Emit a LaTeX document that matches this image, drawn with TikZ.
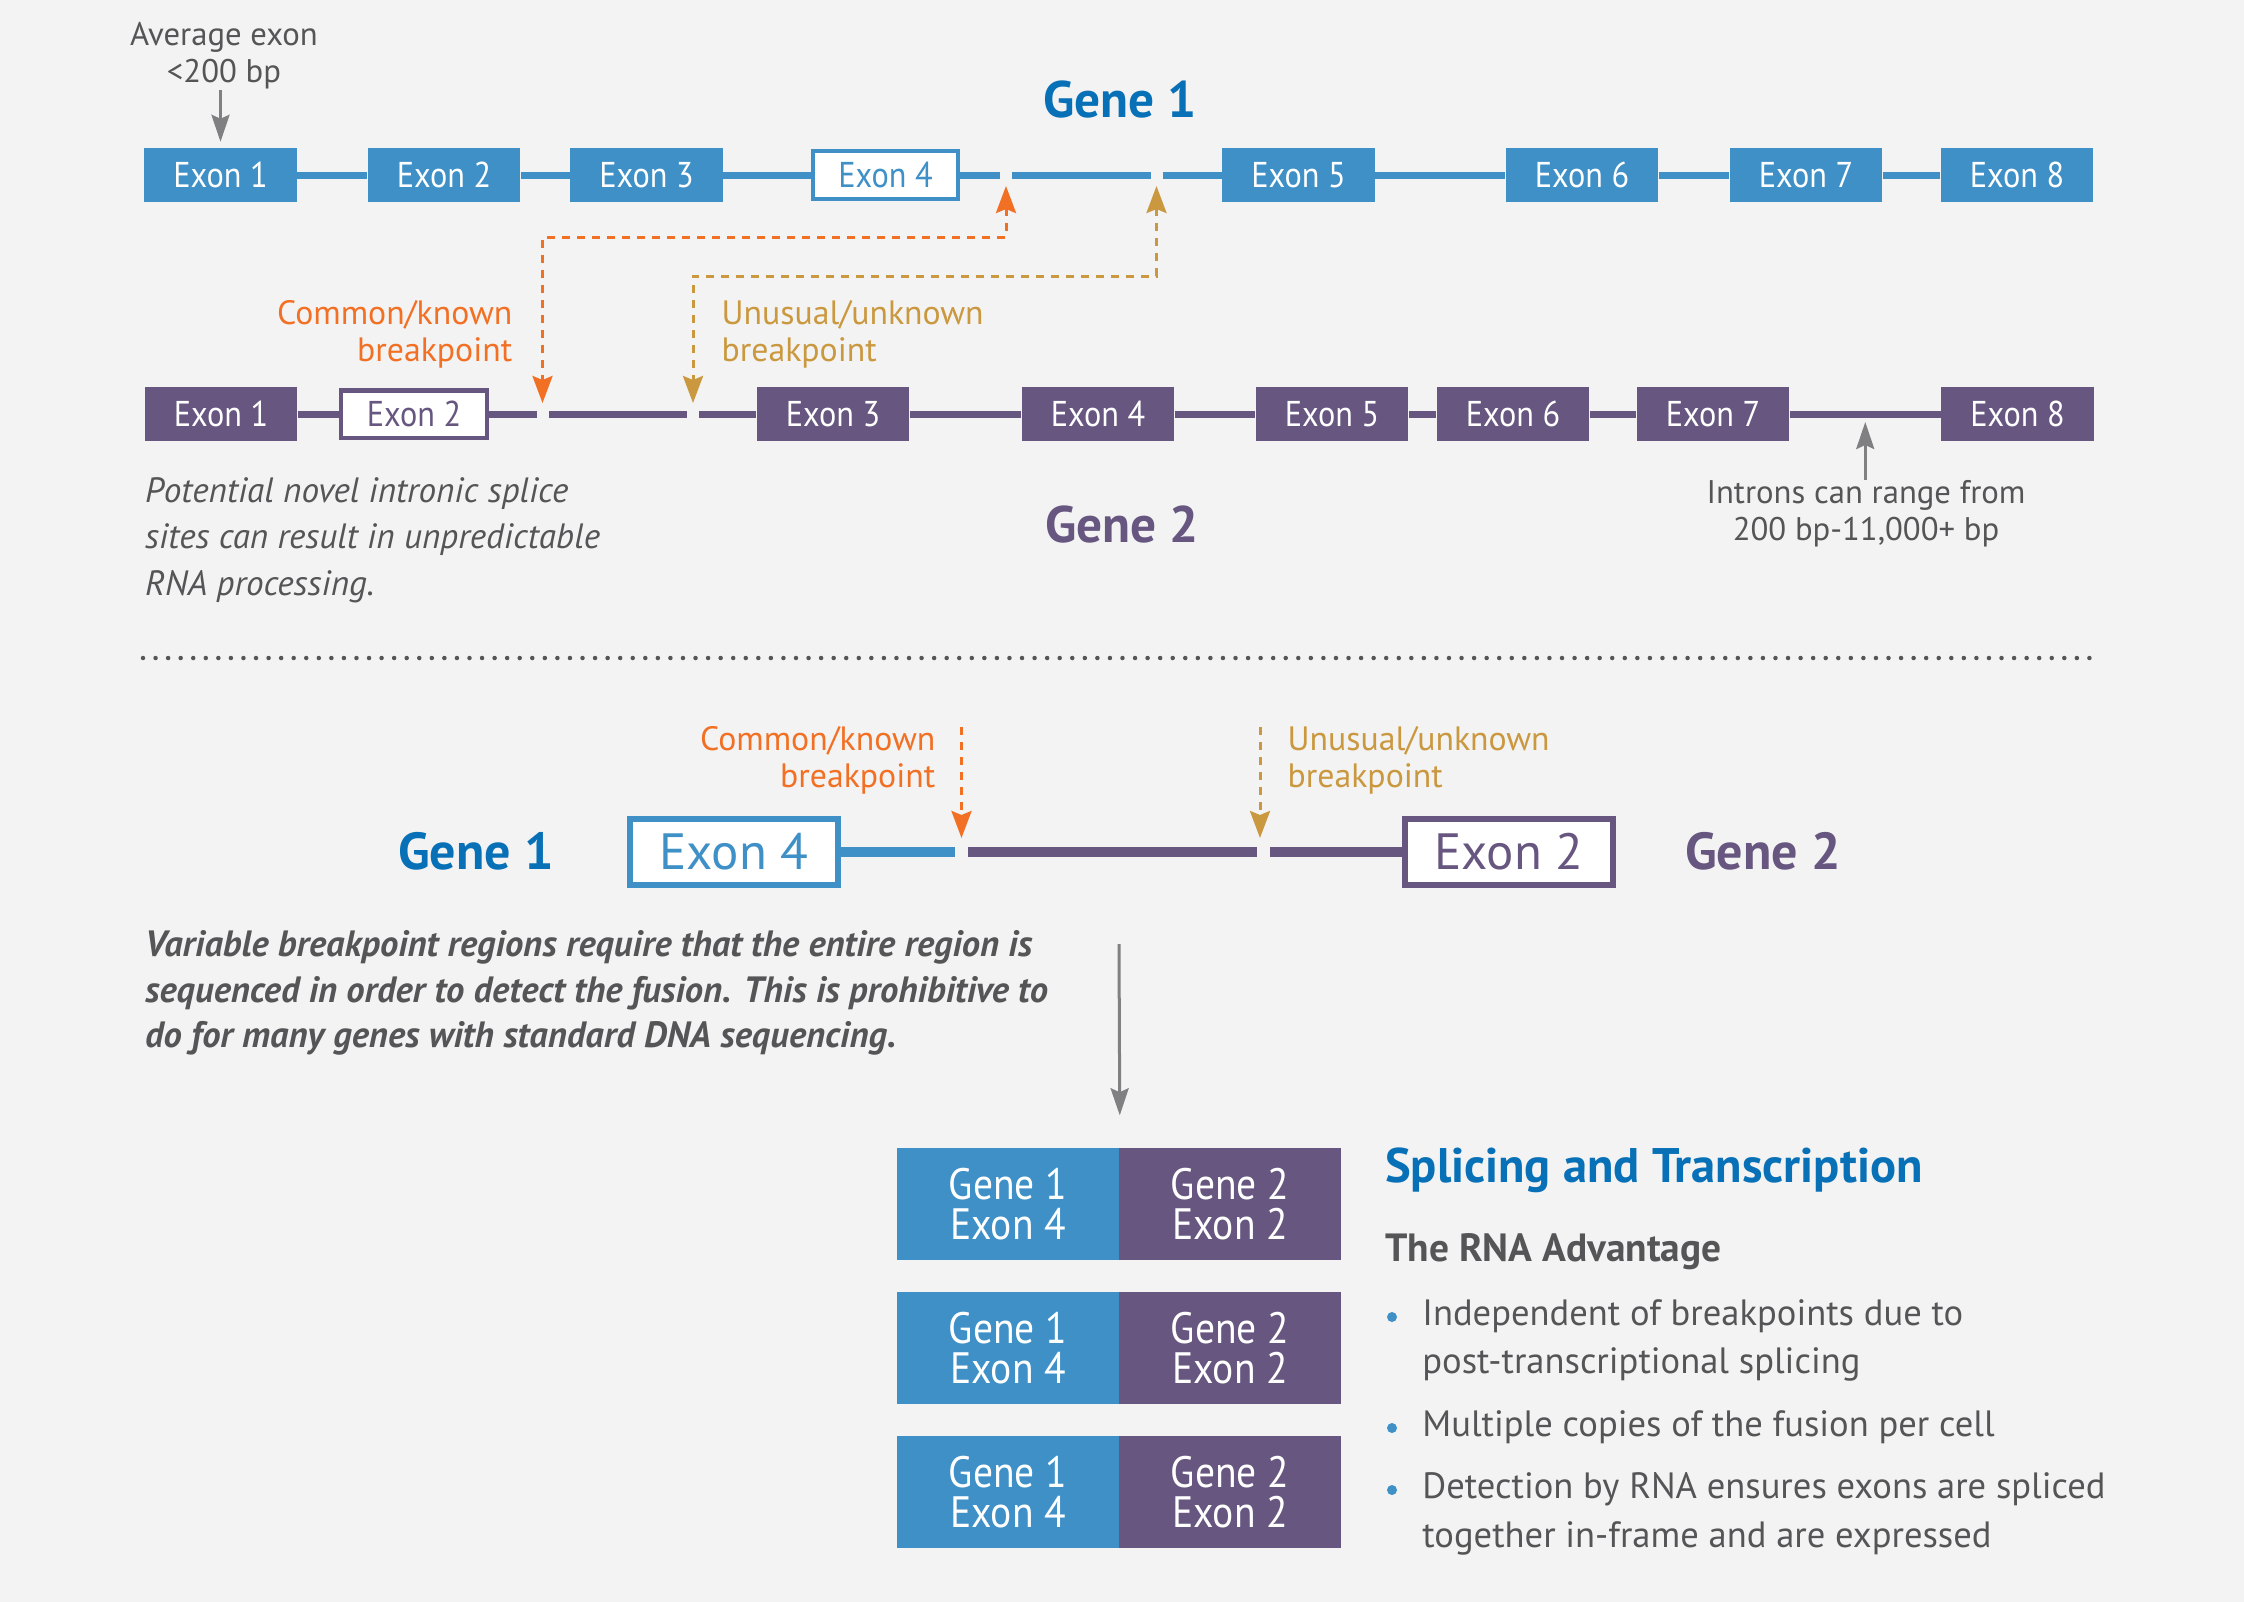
\documentclass[tikz,border=0pt]{standalone}
\usepackage{fontspec}
\setmainfont{PT Sans}[FakeStretch=0.9]
\newfontfamily\notefont{PT Sans}
\usetikzlibrary{calc,arrows.meta}

\definecolor{exonblue}{RGB}{62,144,199}
\definecolor{titleblue}{RGB}{8,112,182}
\definecolor{genepurple}{RGB}{102,86,128}
\definecolor{knownorange}{RGB}{242,112,36}
\definecolor{unknowngold}{RGB}{202,152,62}
\definecolor{textgray}{RGB}{85,85,87}
\definecolor{arrowgray}{RGB}{128,128,131}
\definecolor{bg}{RGB}{243,243,243}

\begin{document}
\begin{tikzpicture}[x=0.01cm,y=-0.01cm,
    exon/.style={rectangle, fill=#1, text=white, inner sep=0pt,
      minimum width=1.52cm, minimum height=0.53cm, font=\fontsize{10.2}{12}\selectfont},
    keyexon/.style={rectangle, draw=#1, fill=white, text=#1, inner sep=0pt, line width=0.04cm,
      minimum width=1.45cm, minimum height=0.47cm, font=\fontsize{10.2}{12}\selectfont},
    fusexon/.style={rectangle, draw=#1, fill=white, text=#1, inner sep=0pt, line width=0.06cm,
      minimum width=2.08cm, minimum height=0.65cm, font=\notefont\fontsize{14.5}{18}\selectfont},
    rnabox/.style={rectangle, fill=#1, text=white, inner sep=0pt, align=center,
      minimum width=2.22cm, minimum height=1.12cm, font=\fontsize{12.5}{11.4}\selectfont},
    intron/.style={draw=#1, line width=0.07cm},
    fusline/.style={draw=#1, line width=0.1cm},
    gap/.style={fill=bg},
    note/.style={inner sep=0pt, font=\notefont\fontsize{9.3}{10.5}\selectfont},
    bknote/.style={inner sep=0pt, font=\notefont\fontsize{9.6}{10.5}\selectfont},
    genetitle/.style={inner sep=0pt, text=#1, font=\notefont\bfseries\fontsize{14.6}{16}\selectfont},
    bigtitle/.style={inner sep=0pt, text=#1, font=\notefont\bfseries\fontsize{14.8}{18}\selectfont},
    >={Stealth[length=0.27cm,width=0.2cm,inset=0.04cm]},
    bkarrow/.style={draw=#1, line width=0.03cm, dash pattern=on 0.08cm off 0.07cm},
    grayarrow/.style={draw=arrowgray, line width=0.03cm, ->, >={Stealth[length=0.27cm,width=0.18cm,inset=0.04cm]}},
    sepline/.style={draw=textgray, line width=0.045cm, line cap=round, dash pattern=on 0pt off 0.1255cm}]

    % page
    \fill[bg] (0,0) rectangle (2244,1602);
    \useasboundingbox (0,0) rectangle (2244,1602);

    % gene 1
    \foreach \n/\x in {1/220.5,2/444,3/646.5,5/1298.5,6/1582,7/1806,8/2017}
        \node[exon=exonblue] (a\n) at (\x,175) {Exon \n};
    \node[keyexon=exonblue] (a4) at (885.5,175) {Exon 4};
    \foreach \i [evaluate=\i as \j using int(\i+1)] in {1,...,7}
        \draw[intron=exonblue] (a\i) -- (a\j);
    \node[genetitle=titleblue] (g1) at (1120,100) {Gene 1};

    % gene 2
    \foreach \n/\x in {1/221,3/833,4/1098,5/1332,6/1513,7/1713,8/2017.5}
        \node[exon=genepurple] (b\n) at (\x,414) {Exon \n};
    \node[keyexon=genepurple] (b2) at (414,414) {Exon 2};
    \foreach \i [evaluate=\i as \j using int(\i+1)] in {1,...,7}
        \draw[intron=genepurple] (b\i) -- (b\j);
    \node[genetitle=genepurple] (g2) at (1122,525) {Gene 2};

    % breakpoints
    \coordinate (k1) at (1006,175);
    \coordinate (u1) at (1156.5,175);
    \coordinate (k2) at (542.5,414);
    \coordinate (u2) at (693,414);
    \foreach \c in {k1,u1,k2,u2}
        \fill[gap] ($(\c)+(-6,-6)$) rectangle ($(\c)+(6,6)$);
    \draw[bkarrow=knownorange, <->] ($(k1)+(0,11)$) -- ++(0,51) -| ($(k2)+(0,-11)$);
    \draw[bkarrow=unknowngold, <->] ($(u1)+(0,11)$) -- ++(0,90) -| ($(u2)+(0,-11)$);
    \node[bknote, text=knownorange, align=right, anchor=east] (kn) at (513,334) {Common/known\\breakpoint};
    \node[bknote, text=unknowngold, align=left, anchor=west] (un) at (721,334) {Unusual/unknown\\breakpoint};

    % notes
    \node[note, text=textgray, align=center] (avg) at (224,56) {Average exon\\<200 bp};
    \draw[grayarrow] (a1.north |- avg.south) -- ([yshift=0.06cm]a1.north);
    \coordinate (i78) at ($(b7.east)!0.5!(b8.west)$);
    \node[note, text=textgray, align=center] (intr) at (1866,514) {Introns can range from\\200 bp-11,000+ bp};
    \draw[grayarrow] (intr.north -| i78) -- ([yshift=-0.08cm]i78);
    \node[inner sep=0pt, text=textgray, align=left, anchor=west, font=\notefont\itshape\fontsize{10}{13.2}\selectfont]
        (pot) at (144.5,540) {Potential novel intronic splice\\sites can result in unpredictable\\RNA processing.};

    \draw[sepline] (143,658) -- (2096,658);

    % fusion
    \node[bigtitle=titleblue] (fg1) at (476,851) {Gene 1};
    \node[fusexon=exonblue] (fx4) at (734,852) {Exon 4};
    \node[fusexon=genepurple] (fx2) at (1509,852) {Exon 2};
    \node[bigtitle=genepurple] (fg2) at (1763,851) {Gene 2};
    \coordinate (k3) at (961.5,852);
    \coordinate (u3) at (1263,852);
    \draw[fusline=exonblue] (fx4) -- (k3);
    \draw[fusline=genepurple] (k3) -- (fx2);
    \foreach \c in {k3,u3}
        \fill[gap] ($(\c)+(-6.5,-8)$) rectangle ($(\c)+(6.5,8)$);
    \draw[bkarrow=knownorange, ->] ($(k3)+(0,-125)$) -- ($(k3)+(0,-14)$);
    \draw[bkarrow=unknowngold, ->] ($(u3)+(-3,-125)$) -- ($(u3)+(-3,-14)$);
    \node[bknote, text=knownorange, align=right, anchor=east] (kn3) at (936,760) {Common/known\\breakpoint};
    \node[bknote, text=unknowngold, align=left, anchor=west] (un3) at (1287,760) {Unusual/unknown\\breakpoint};
    \node[inner sep=0pt, text=textgray, align=left, anchor=west, font=\notefont\bfseries\itshape\fontsize{10.4}{12.9}\selectfont]
        (var) at (144.5,993) {Variable breakpoint regions require that the entire region is\\sequenced in order to detect the fusion. This is prohibitive to\\do for many genes with standard DNA sequencing.};

    % rna
    \foreach \r/\y in {1/1204,2/1348,3/1492}{
        \node[rnabox=exonblue] (rb\r) at (1008,\y) {Gene 1\\Exon 4};
        \node[rnabox=genepurple] (rp\r) at (1230,\y) {Gene 2\\Exon 2};
    }
    \coordinate (fuse) at (1119,944);
    \draw[grayarrow] (fuse) -- ([yshift=0.32cm]rb1.north east);

    \node[inner sep=0pt, anchor=west, text=titleblue, font=\notefont\bfseries\fontsize{13.8}{16}\selectfont]
        (spl) at (1384.5,1170) {Splicing and Transcription};
    \node[inner sep=0pt, anchor=west, text=textgray, font=\notefont\bfseries\fontsize{11.2}{14}\selectfont]
        (adv) at (1384.5,1252) {The RNA Advantage};
    \foreach \i/\y/\t in {1/1340.5/{Independent of breakpoints due to\\post-transcriptional splicing},
                          2/1427/{Multiple copies of the fusion per cell},
                          3/1514/{Detection by RNA ensures exons are spliced\\together in-frame and are expressed}}
        \node[inner sep=0pt, anchor=west, align=left, text=textgray, font=\notefont\fontsize{10.4}{13.8}\selectfont]
            (pt\i) at (1421.7,\y) {\t};
    \foreach \y in {1317,1428,1490}
        \fill[exonblue] (1392,\y) circle (0.05cm);

\end{tikzpicture}
\end{document}
